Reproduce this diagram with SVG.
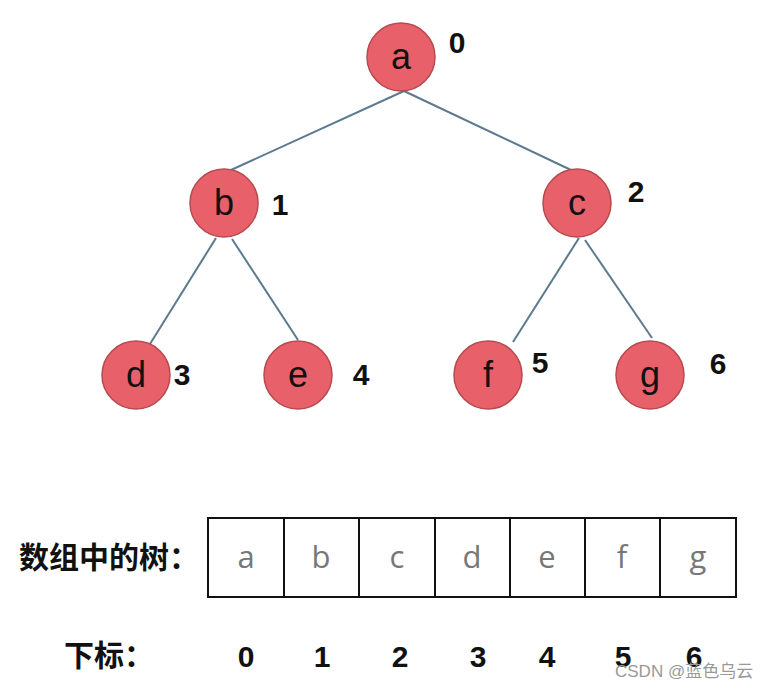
<svg xmlns="http://www.w3.org/2000/svg" width="765" height="689" viewBox="0 0 765 689">
<style>
.node circle{fill:#e8606a;stroke:#b54a50;stroke-width:1.5}
.node text.l{font-family:"Liberation Sans",Arial,sans-serif;font-size:36px;fill:#111;text-anchor:middle}
.num{font-family:"Liberation Sans",Arial,sans-serif;font-size:30px;font-weight:bold;fill:#111;text-anchor:middle}
.edges line{stroke:#5c7a8f;stroke-width:2}
.cell rect{fill:#fff;stroke:#111;stroke-width:2}
.cell text{font-family:"Open Sans","Noto Sans",sans-serif;font-size:31px;fill:#777;text-anchor:middle}
.cjk{font-family:"Noto Sans CJK SC",sans-serif;font-size:30px;font-weight:bold;fill:#111}
.wm{font-family:"Liberation Sans","Noto Sans CJK SC",sans-serif;font-size:17px;fill:#999}
</style>
<rect width="765" height="689" fill="#fff"/>
<g id="edges" class="edges">
<line x1="404" y1="91" x2="231" y2="170"/>
<line x1="404" y1="91" x2="571" y2="170"/>
<line x1="216" y1="238" x2="150" y2="344"/>
<line x1="232" y1="239" x2="298" y2="340"/>
<line x1="579" y1="238" x2="513" y2="342"/>
<line x1="585" y1="240" x2="652" y2="338"/>
</g>
<g id="node-a" class="node"><circle cx="401" cy="57" r="34"/><text class="l" x="401" y="69">a</text><text class="num" x="457" y="53">0</text></g>
<g id="node-b" class="node"><circle cx="224" cy="203" r="34"/><text class="l" x="224" y="215">b</text><text class="num" x="280" y="215">1</text></g>
<g id="node-c" class="node"><circle cx="577" cy="203" r="34"/><text class="l" x="577" y="215">c</text><text class="num" x="636" y="202">2</text></g>
<g id="node-d" class="node"><circle cx="136" cy="375" r="34"/><text class="l" x="136" y="387">d</text><text class="num" x="182" y="385">3</text></g>
<g id="node-e" class="node"><circle cx="298" cy="375" r="34"/><text class="l" x="298" y="387">e</text><text class="num" x="361" y="385">4</text></g>
<g id="node-f" class="node"><circle cx="488" cy="375" r="34"/><text class="l" x="488" y="387">f</text><text class="num" x="540" y="373">5</text></g>
<g id="node-g" class="node"><circle cx="650" cy="375" r="34"/><text class="l" x="650" y="387">g</text><text class="num" x="718" y="374">6</text></g>
<text class="cjk" x="19" y="568">数组中的树：</text>
<g id="array" class="cell">
<rect x="208" y="518" width="76" height="79"/>
<rect x="284" y="518" width="75" height="79"/>
<rect x="359" y="518" width="76" height="79"/>
<rect x="435" y="518" width="75" height="79"/>
<rect x="510" y="518" width="75" height="79"/>
<rect x="585" y="518" width="75" height="79"/>
<rect x="660" y="518" width="76" height="79"/>
<text x="246" y="568">a</text>
<text x="321" y="568">b</text>
<text x="397" y="568">c</text>
<text x="472" y="568">d</text>
<text x="547" y="568">e</text>
<text x="622" y="568">f</text>
<text x="698" y="568">g</text>
</g>
<text class="cjk" x="64" y="666">下标：</text>
<g id="indices">
<text class="num" x="246" y="667">0</text>
<text class="num" x="322" y="667">1</text>
<text class="num" x="400" y="667">2</text>
<text class="num" x="478" y="667">3</text>
<text class="num" x="547" y="667">4</text>
<text class="num" x="623" y="667">5</text>
<text class="num" x="694" y="667">6</text>
</g>
<text class="wm" x="615" y="677">CSDN @蓝色乌云</text>
</svg>
